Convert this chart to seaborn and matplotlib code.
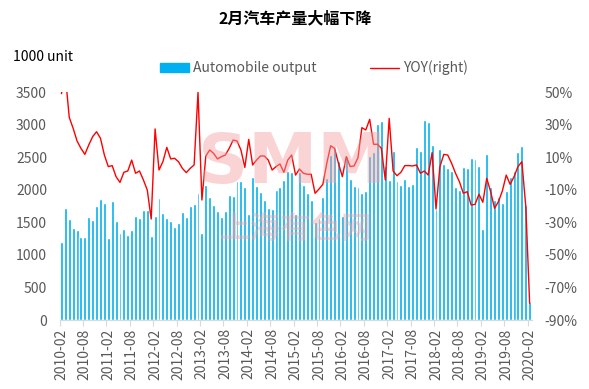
import numpy as np
import pandas as pd
import seaborn as sns
import matplotlib.pyplot as plt
from matplotlib.patches import Patch
from matplotlib.lines import Line2D

# monthly automobile output (1000 units), 2010-02 .. 2020-02
months = pd.period_range("2010-02", "2020-02", freq="M").strftime("%Y-%m").tolist()
output = [
    1200, 1720, 1550, 1410, 1380, 1275, 1275, 1580, 1535, 1750, 1855, 1800, 1260, 1825, 1520, 1335, 1395, 1305, 1380, 1595,
    1565, 1690, 1690, 1290, 1595, 1875, 1645, 1565, 1520, 1430, 1490, 1660, 1580, 1750, 1780, 1950, 1335, 2070, 1890, 1765,
    1675, 1580, 1675, 1920, 1905, 2135, 2135, 2040, 1625, 2195, 2055, 1965, 1840, 1720, 1705, 1995, 2040, 2150, 2285, 2270,
    1625, 2270, 2070, 1950, 1840, 1505, 1565, 1890, 2180, 2535, 2640, 2440, 1595, 2520, 2165, 2055, 2040, 1950, 1980, 2520,
    2580, 3010, 3055, 2365, 2150, 2595, 2135, 2070, 2165, 2055, 2090, 2655, 2595, 3070, 3040, 2685, 1705, 2625, 2395, 2335,
    2285, 2040, 1995, 2350, 2335, 2485, 2470, 2365, 1395, 2550, 2040, 1840, 1890, 1795, 1980, 2195, 2285, 2580, 2670, 1765,
    275,
]
# year-on-year change (%)
yoy = [
    49, 60, 34.4, 27.7, 19.9, 15.4, 11.7, 17.5, 22.6, 25.6, 21.6, 11.3, 4.2, 4.8, -2, -5.5, 0.7, 1.5, 8.2, 0.1,
    1.5, -4, -10.2, -28, 27.3, 2.1, 7.2, 16, 8.9, 9.3, 7.2, 3.1, 0.5, 3.1, 5.2, 49.8, -16.3, 10.7, 14.4, 12.3,
    8.9, 10.3, 11.3, 15.4, 20.5, 19.9, 14.4, 3.7, 20.9, 5.2, 8.2, 10.7, 10.7, 8.2, 2.1, 4.2, 5.8, 0.7, 8.2, 11.3,
    -1, 2.7, 0.1, -0.5, -0.5, -12.2, -9.6, -6.7, 6.2, 17, 15.4, 6.2, -2, 10.3, 4.2, 4.6, 9.7, 28.1, 26.7, 33.2,
    17.9, 17.9, 15.4, -4, 33.8, 1.5, -1.4, 0.7, 4.8, 4.8, 4.6, 5.2, 0.1, 1.5, -1, 12.8, -21.8, 4.2, 11.7, 11.3,
    6.2, 0.1, -5.1, -12.2, -11.2, -19.4, -19, -12.8, -17.7, -3, -11.2, -21.4, -17.3, -10.8, -1, -6.7, -2, 4.2, 7.2, -20,
    -79.8,
]
left_ticks = [0, 500, 1000, 1500, 2000, 2500, 3000, 3500]
right_ticks = [-90, -70, -50, -30, -10, 10, 30, 50]

sns.set_theme(style="white")
plt.rcParams["font.family"] = ["Noto Sans CJK SC", "DejaVu Sans"]

BLUE = "#00B0F0"
GREY = "#595959"

fig = plt.figure(figsize=(5.89, 3.89), dpi=100)
ax = fig.add_axes([59.5 / 589, 1 - 320 / 389, (532 - 59.5) / 589, 228 / 389])

sns.barplot(x=months, y=output, color=BLUE, saturation=1, width=0.75, ax=ax, zorder=2)
ax.set_xlim(-0.5, 120.6)
ax.set_ylim(0, 3500)
ax.set_yticks(left_ticks)
ax.set_yticklabels([str(v) for v in left_ticks])
ax.tick_params(axis="y", length=0, pad=9, labelsize=10, labelcolor=GREY)

pos = np.arange(len(months))
ax.set_xticks(pos[::6])
ax.set_xticklabels(months[::6], rotation=90)
ax.set_xticks(pos[::6] - 0.5, minor=True)
ax.tick_params(axis="x", which="major", length=0, pad=6, labelsize=10, labelcolor=GREY)
ax.tick_params(axis="x", which="minor", length=4, width=0.8, color="#D9D9D9", bottom=True)
ax.set_xlabel("")
ax.set_ylabel("")
for s in ["top", "left", "right"]:
    ax.spines[s].set_visible(False)
ax.spines["bottom"].set_color("#D9D9D9")
ax.spines["bottom"].set_linewidth(0.8)
ax.grid(False)

ax2 = ax.twinx()
sns.lineplot(x=pos, y=yoy, ax=ax2, color="#FF0000", linewidth=1.0)
ax2.set_ylim(-90, 50)
ax2.set_yticks(right_ticks)
ax2.set_yticklabels([f"{v}%" for v in right_ticks])
ax2.tick_params(axis="y", length=0, pad=9, labelsize=10, labelcolor=GREY)
for s in ax2.spines.values():
    s.set_visible(False)
ax2.grid(False)
ax2.set_ylabel("")

# header texts
fig.text(0.502, 1 - 18 / 389, "2月汽车产量大幅下降", ha="center", va="center",
         fontsize=11.5, weight="bold", color="black")
fig.text(13 / 589, 1 - 57 / 389, "1000 unit", ha="left", va="center", fontsize=10, color="black")

handles = [Patch(color=BLUE), Line2D([], [], color="#FF0000", lw=1)]
fig.legend(handles, ["Automobile output", "YOY(right)"], loc="center left",
           bbox_to_anchor=(160 / 589, 1 - 68 / 389), ncol=2, frameon=False, fontsize=10,
           handlelength=2.1, handleheight=0.6, handletextpad=0.25, columnspacing=3.9,
           borderpad=0, borderaxespad=0, labelcolor=GREY)

# faint watermark
fig.text(292 / 589, 1 - 163 / 389, "SMM", ha="center", va="center", fontsize=50,
         weight="bold", color="#F4A0A0", alpha=0.45, family="DejaVu Sans")
fig.text(296 / 589, 1 - 229 / 389, "上海有色网", ha="center", va="center", fontsize=22,
         weight="bold", color="#F4A0A0", alpha=0.45)

fig.savefig("out.png", dpi=100)
